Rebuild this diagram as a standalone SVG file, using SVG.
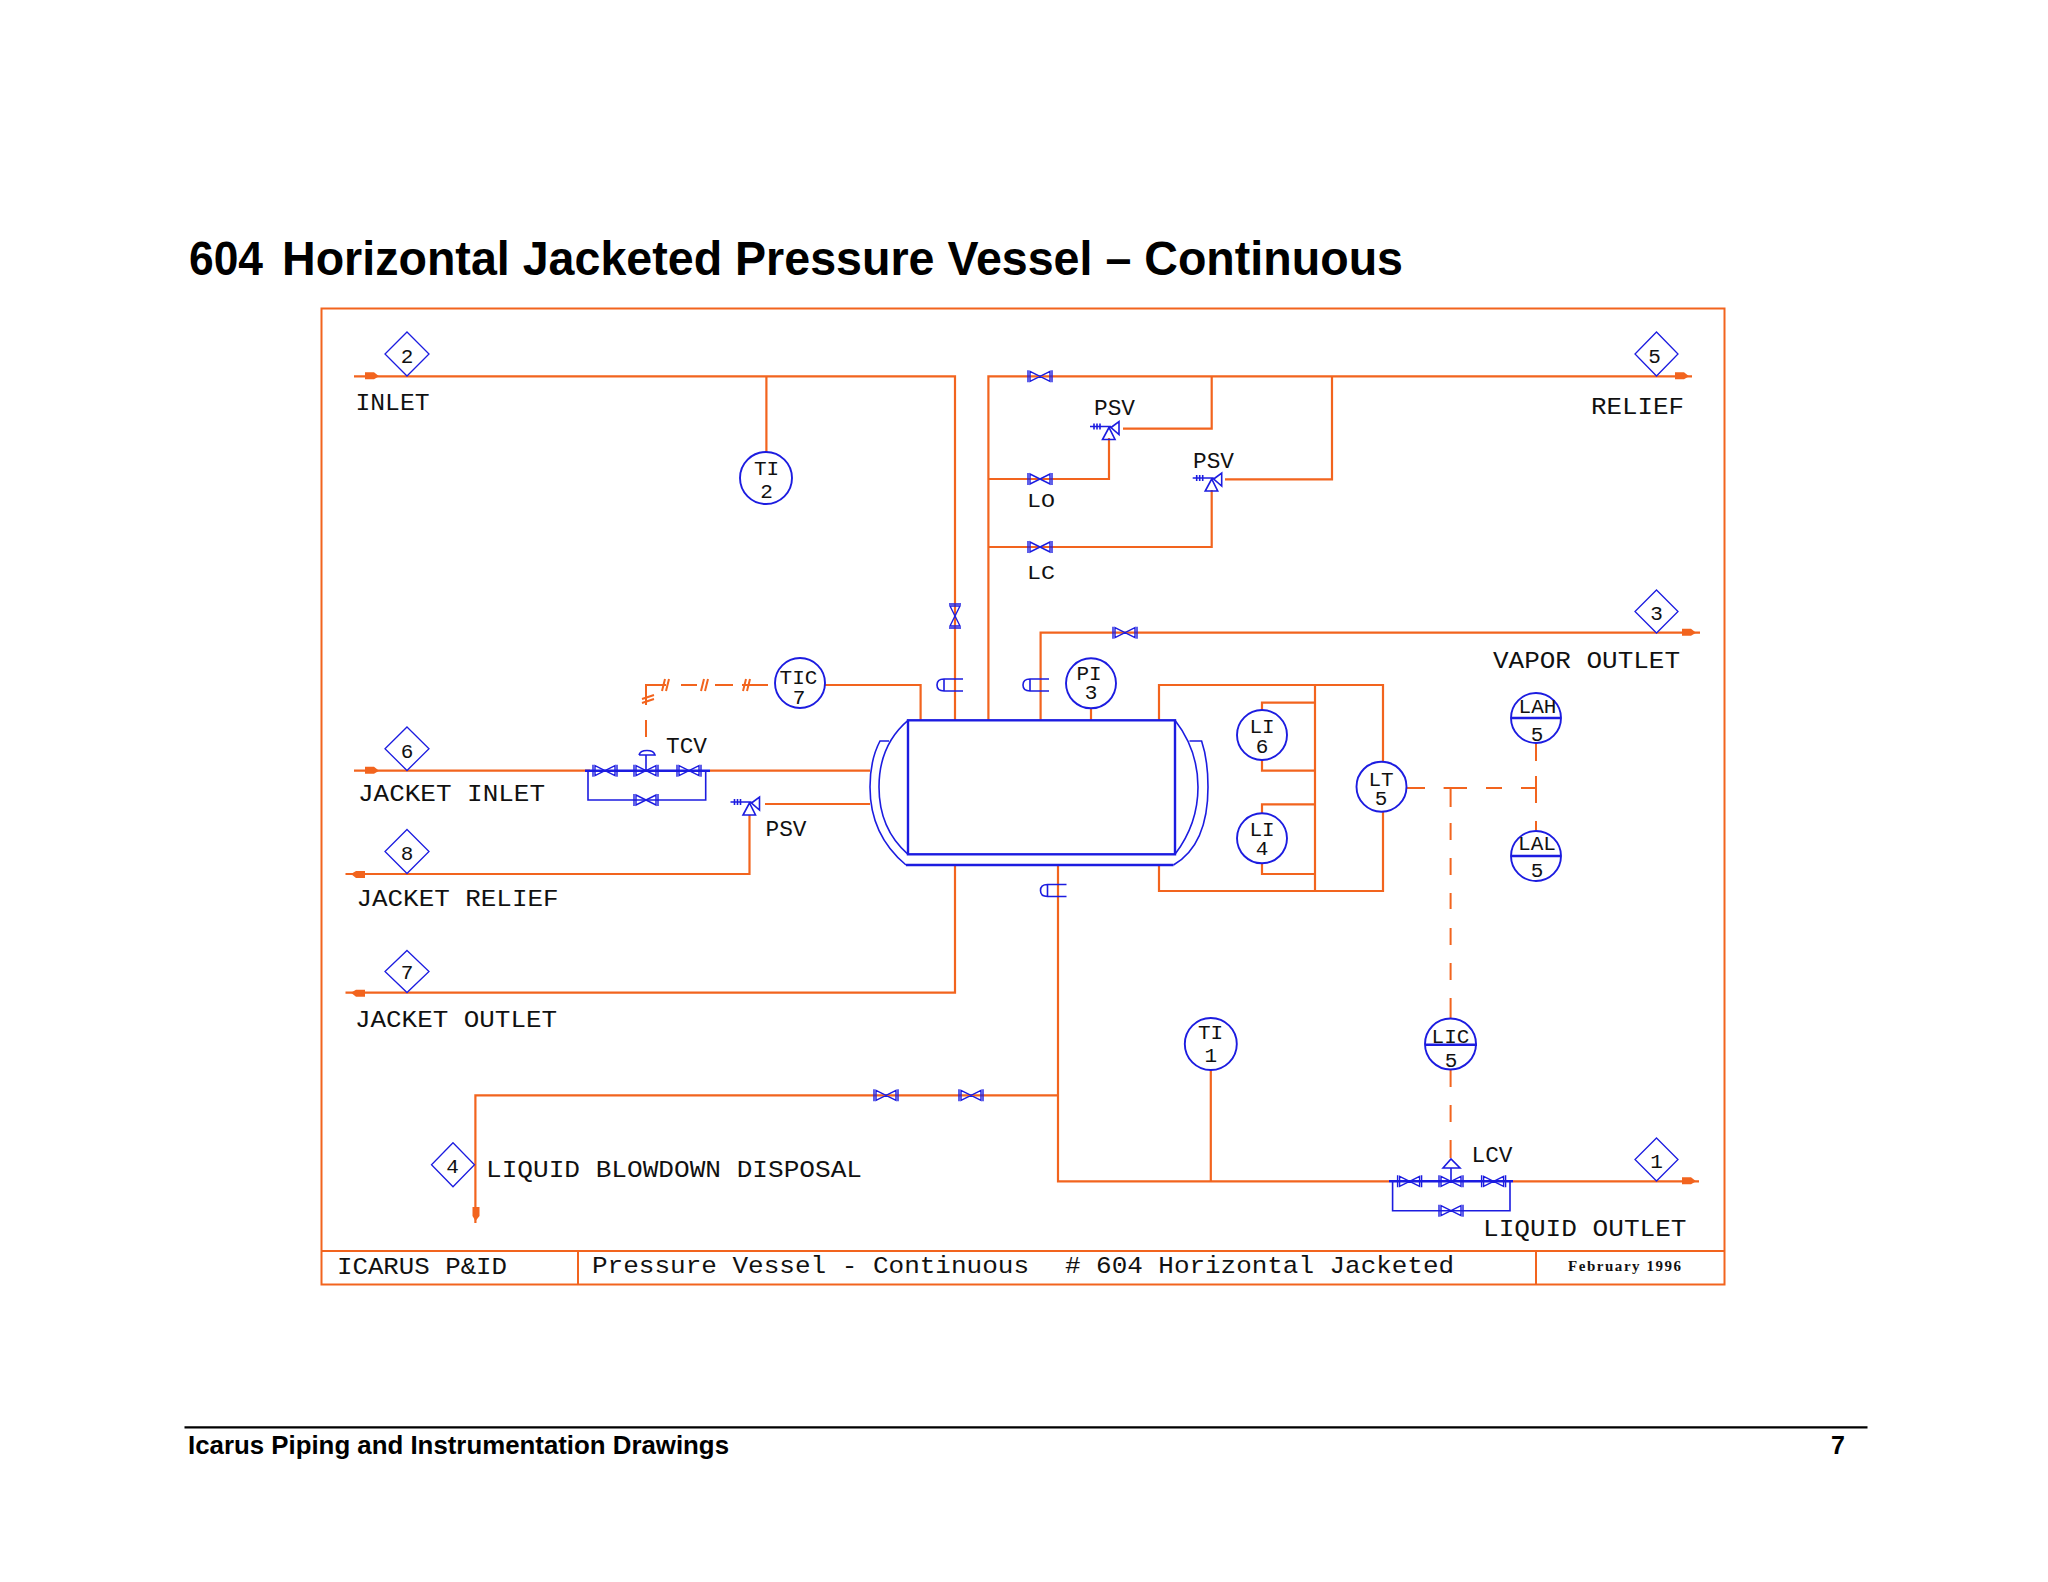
<svg xmlns="http://www.w3.org/2000/svg" width="2048" height="1582" viewBox="0 0 2048 1582">
<style>
.p{fill:none;stroke:#f2641e;stroke-width:2.2}
.f{fill:none;stroke:#f2641e;stroke-width:2}
.s{fill:none;stroke:#f2641e;stroke-width:2}
.b{fill:none;stroke:#1c1ce0;stroke-width:1.6}
.v{fill:none;stroke:#1c1ce0;stroke-width:1.4}
.bt{fill:none;stroke:#1c1ce0;stroke-width:2.6}
.c{fill:#fff;stroke:#1c1ce0;stroke-width:1.9}
.d{fill:#fff;stroke:#1c1ce0;stroke-width:1.3}
.ar{fill:#f2641e}
text{fill:#111}
.m{font-family:"Liberation Mono",monospace;font-size:24px}
.n{font-family:"Liberation Mono",monospace;font-size:22px}
.i{font-family:"Liberation Mono",monospace;font-size:21px;text-anchor:middle}
.h{font-family:"Liberation Sans",Arial,sans-serif;font-weight:700;font-size:47.5px;fill:#000}
.g{font-family:"Liberation Sans",Arial,sans-serif;font-weight:700;font-size:25px;fill:#000}
</style>
<defs>
<g id="valve"><path class="v" d="M-12-6V6M12-6V6M-10-5L10 5V-5L-10 5Z"/></g>
<g id="psv"><path class="b" d="M-19-1H2M-15-4V2M-12-4V2M-9-4V2M0 0L-6.500 12H6ZM2 0L10-6V7Z"/></g>
<g id="tap"><path class="b" d="M8-6H-11Q-18-6-18 0T-11 6H8M-11-6V6"/></g>
<path id="arrow" class="ar" d="M-5-4H4L9 0 4 3H-5Z"/>
</defs>

<g id="title">
<text class="h" x="189" y="275" textLength="74" lengthAdjust="spacingAndGlyphs">604</text>
<text class="h" x="282" y="275" textLength="1121" lengthAdjust="spacingAndGlyphs">Horizontal Jacketed Pressure Vessel – Continuous</text>
</g>

<g id="frame">
<rect class="f" x="321.500" y="308.500" width="1403" height="976"/>
<path class="f" d="M321.500 1251H1724.500M578 1251V1284M1536 1251V1284"/>
<text class="m" x="337" y="1274" textLength="170" lengthAdjust="spacingAndGlyphs">ICARUS P&amp;ID</text>
<text class="m" x="592" y="1272.500" textLength="437" lengthAdjust="spacingAndGlyphs">Pressure Vessel - Continuous</text>
<text class="m" x="1065" y="1272.500" textLength="389" lengthAdjust="spacingAndGlyphs"># 604 Horizontal Jacketed</text>
<text x="1568" y="1271" font-family="Liberation Serif,serif" font-weight="700" font-size="15" textLength="113" lengthAdjust="spacing">February 1996</text>
</g>

<g id="connectors">
<path class="p" d="M354 376.300H955V720M766.400 376.300V452M988.400 720V376.300H1692M988.400 479H1109V438M988.400 547H1211.700V490M1123 428.700H1211.700V376.300M1225 479.300H1332V376.300"/>
<path class="p" d="M1700 632.700H1040.600V720"/>
<path class="p" d="M824.500 685H920.600V720M1091 708.700V720"/>
<path class="p" d="M354 770.700H590M710 770.700H870M765 804H870M749.500 815V874H345.500M955 865V992.700H345.500"/>
<path class="p" d="M1159 720V685H1383V761.700M1315 685V891M1159 865V891H1383V811.700M1262 710V702.700H1315M1262 760V770.700H1315M1262 813V804.300H1315M1262 863V874H1315"/>
<path class="p" d="M1058 865V1181.300H1389M1513 1181.300H1699M1210.800 1070V1181.300M1058 1095.300H475.400V1223"/>
<path class="s" d="M646 705V685H666M681 685H697M715 685H733M742 685H768M646 720V737"/>
<path class="s" d="M1407 788H1425M1443.600 788H1467M1486 788H1502M1521 788H1536M1536 743V761M1536 776V803M1536 821V830"/>
<path class="s" d="M1450.600 788V807M1450.600 823V840M1450.600 858V875M1450.600 893V909M1450.600 928V945M1450.600 963V980M1450.600 998V1018M1450.600 1070V1087M1450.600 1105V1122M1450.600 1140V1158"/>
<path class="s" stroke-width="1.500" d="M662 691L665 679M666 691L669 679M701 691L704 679M705 691L708 679M743 691L746 679M747 691L750 679M642 703L654 699M642 699L654 695"/>
<use href="#arrow" x="370" y="376.300"/>
<use href="#arrow" x="370" y="770.700"/>
<use href="#arrow" transform="translate(360 874) rotate(180)"/>
<use href="#arrow" transform="translate(360 992.700) rotate(180)"/>
<use href="#arrow" x="1680" y="376.300"/>
<use href="#arrow" x="1687" y="632.700"/>
<use href="#arrow" x="1687" y="1181.300"/>
<use href="#arrow" transform="translate(475.500 1212) rotate(90)"/>
</g>

<g id="vessel">
<rect x="908" y="720.300" width="267" height="134" fill="#fff" stroke="#1c1ce0" stroke-width="2.400"/>
<path class="bt" d="M906 865H1173.500"/>
<path class="b" d="M908 720.300Q879 745 879 787T908 854.300M906 865Q870 835 870 787Q870 760 880 741H889"/>
<path class="b" d="M1175 720.300Q1198 750 1198 787T1175 854.300M1173.500 865Q1208 845 1208 787Q1208 760 1201.600 741H1189.500"/>
</g>

<g id="tap-1"><use href="#tap" x="955" y="685"/></g>
<g id="tap-2"><use href="#tap" x="1041" y="685"/></g>
<g id="tap-3"><use href="#tap" x="1058.500" y="890.500"/></g>

<g id="valves">
<use href="#valve" x="1040" y="376.300"/>
<use href="#valve" x="1040" y="479"/>
<use href="#valve" x="1040" y="547"/>
<use href="#valve" x="1125" y="632.700"/>
<use href="#valve" transform="translate(955 616) rotate(90)"/>
<use href="#valve" x="886" y="1095.300"/>
<use href="#valve" x="971" y="1095.300"/>
</g>

<g id="psv-1"><use href="#psv" x="1109" y="427.500"/><text class="n" x="1094" y="415" textLength="41" lengthAdjust="spacingAndGlyphs">PSV</text></g>
<g id="psv-2"><use href="#psv" x="1211.700" y="479"/><text class="n" x="1193" y="467.500" textLength="41" lengthAdjust="spacingAndGlyphs">PSV</text></g>
<g id="psv-3"><use href="#psv" x="749.500" y="803"/><text class="n" x="765.500" y="835.500" textLength="41" lengthAdjust="spacingAndGlyphs">PSV</text></g>

<g id="tcv">
<path class="bt" d="M585 770.700H710"/>
<path class="b" d="M588 770.700V800H705.700V770.700M646 770.700V755M639 755Q640 750.500 647 750.500T655 755H639"/>
<g fill="#fff"><use href="#valve" x="605" y="770.700"/><use href="#valve" x="646" y="770.700"/><use href="#valve" x="689" y="770.700"/><use href="#valve" x="646" y="800"/></g>
<text class="n" x="666" y="752.500" textLength="41" lengthAdjust="spacingAndGlyphs">TCV</text>
</g>
<g id="lcv">
<path class="bt" d="M1389 1181.300H1513"/>
<path class="b" d="M1392.600 1181.300V1210.700H1510V1181.300M1451 1181.300V1168M1443 1168L1451 1159 1460 1168Z"/>
<use href="#valve" x="1409.600" y="1181.300"/><use href="#valve" x="1451" y="1181.300"/><use href="#valve" x="1493.600" y="1181.300"/><use href="#valve" x="1451" y="1210.700"/>
<text class="n" x="1471.500" y="1161.500" textLength="41" lengthAdjust="spacingAndGlyphs">LCV</text>
</g>

<g id="ti-2"><circle class="c" cx="766" cy="478" r="26"/><text class="i" x="766.500" y="475">TI</text><text class="i" x="766.500" y="497.500">2</text></g>
<g id="tic-7"><circle class="c" cx="800" cy="683" r="25"/><text class="i" x="798.500" y="684">TIC</text><text class="i" x="799" y="704">7</text></g>
<g id="pi-3"><circle class="c" cx="1091" cy="683.300" r="25"/><text class="i" x="1089" y="680">PI</text><text class="i" x="1091" y="699">3</text></g>
<g id="li-6"><circle class="c" cx="1262" cy="735" r="25"/><text class="i" x="1262" y="733">LI</text><text class="i" x="1262" y="753">6</text></g>
<g id="li-4"><circle class="c" cx="1262" cy="838.300" r="25"/><text class="i" x="1262" y="835.500">LI</text><text class="i" x="1262" y="855">4</text></g>
<g id="lt-5"><circle class="c" cx="1381.500" cy="786.700" r="25"/><text class="i" x="1381" y="786">LT</text><text class="i" x="1381" y="805">5</text></g>
<g id="lah-5"><circle class="c" cx="1536" cy="718" r="25"/><path class="bt" d="M1511 718H1561"/><text class="i" x="1537.500" y="713">LAH</text><text class="i" x="1537" y="741">5</text></g>
<g id="lal-5"><circle class="c" cx="1536" cy="856" r="25"/><path class="bt" d="M1511 856H1561"/><text class="i" x="1537" y="850">LAL</text><text class="i" x="1537" y="877">5</text></g>
<g id="lic-5"><circle class="c" cx="1450.500" cy="1044" r="25.500"/><path class="bt" d="M1425 1044.700H1477"/><text class="i" x="1450.500" y="1042.500">LIC</text><text class="i" x="1451" y="1066.500">5</text></g>
<g id="ti-1"><circle class="c" cx="1210.800" cy="1044" r="26"/><text class="i" x="1210.500" y="1039">TI</text><text class="i" x="1210.800" y="1061.500">1</text></g>

<g id="tag-2"><path class="d" d="M407 332L429 354 407 376 385 354Z"/><text class="i" x="407" y="362.500">2</text></g>
<g id="tag-5"><path class="d" d="M1656.500 332L1678 354 1656.500 376 1635 354Z"/><text class="i" x="1654.500" y="362.500">5</text></g>
<g id="tag-3"><path class="d" d="M1656.500 590L1678 611.500 1656.500 633 1635 611.500Z"/><text class="i" x="1656.500" y="619.500">3</text></g>
<g id="tag-6"><path class="d" d="M407 727L429 748.800 407 770.500 385 748.800Z"/><text class="i" x="407" y="757.500">6</text></g>
<g id="tag-8"><path class="d" d="M407 829.500L429 851.500 407 873.500 385 851.500Z"/><text class="i" x="407" y="860">8</text></g>
<g id="tag-7"><path class="d" d="M407 950.500L429 971.500 407 992.500 385 971.500Z"/><text class="i" x="407" y="978.500">7</text></g>
<g id="tag-4"><path class="d" d="M453 1142.700L474.500 1164.700 453 1186.700 431.500 1164.700Z"/><text class="i" x="452.500" y="1173">4</text></g>
<g id="tag-1"><path class="d" d="M1656.500 1138L1678 1159.500 1656.500 1181 1635 1159.500Z"/><text class="i" x="1656.500" y="1168">1</text></g>

<g id="labels">
<text class="m" x="355.500" y="410" textLength="74" lengthAdjust="spacingAndGlyphs">INLET</text>
<text class="m" x="1591" y="414" textLength="93" lengthAdjust="spacingAndGlyphs">RELIEF</text>
<text class="m" x="1493" y="668" textLength="187" lengthAdjust="spacingAndGlyphs">VAPOR OUTLET</text>
<text class="m" x="358" y="800.500" textLength="187" lengthAdjust="spacingAndGlyphs">JACKET INLET</text>
<text class="m" x="356.500" y="906" textLength="202" lengthAdjust="spacingAndGlyphs">JACKET RELIEF</text>
<text class="m" x="355" y="1026.500" textLength="202" lengthAdjust="spacingAndGlyphs">JACKET OUTLET</text>
<text class="m" x="486" y="1176.500" textLength="376" lengthAdjust="spacingAndGlyphs">LIQUID BLOWDOWN DISPOSAL</text>
<text class="m" x="1483" y="1236" textLength="203.500" lengthAdjust="spacingAndGlyphs">LIQUID OUTLET</text>
<text class="i" x="1041" y="506.500" textLength="28" lengthAdjust="spacingAndGlyphs">LO</text>
<text class="i" x="1041" y="579" textLength="28" lengthAdjust="spacingAndGlyphs">LC</text>
</g>

<g id="footer">
<path d="M184.500 1427.300H1867.500" stroke="#000" stroke-width="2.200" fill="none"/>
<text class="g" x="188" y="1454" textLength="541" lengthAdjust="spacingAndGlyphs">Icarus Piping and Instrumentation Drawings</text>
<text class="g" x="1831" y="1454">7</text>
</g>
</svg>
